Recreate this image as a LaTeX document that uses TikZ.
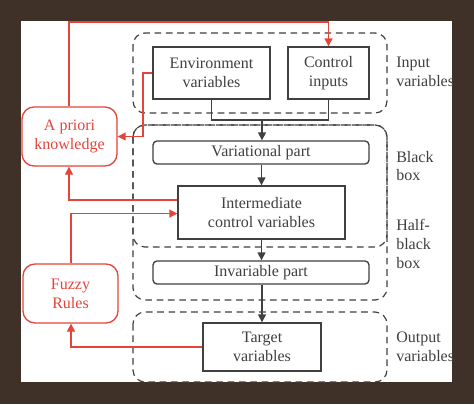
\documentclass[tikz,border=0pt]{standalone}
\usepackage{fontspec}
\setmainfont{Liberation Serif}
\usetikzlibrary{arrows.meta}
\definecolor{bgbrown}{RGB}{63,49,40}
\definecolor{myred}{RGB}{228,68,58}
\definecolor{mygray}{RGB}{64,64,64}
\begin{document}
\begin{tikzpicture}[x=0.75pt,y=-0.75pt,
  every node/.style={font=\fontsize{12}{14}\selectfont, text=mygray},
  plainbox/.style={draw=mygray, line width=1pt, align=center, inner sep=0pt},
  partbox/.style={plainbox, rounded corners=3pt},
  redbox/.style={draw=myred, line width=1pt, rounded corners=9pt, align=center, inner sep=0pt, text=myred},
  dashbox/.style={draw=mygray, line width=0.9pt, dash pattern=on 5pt off 3.5pt, rounded corners=9pt},
  blk/.style={draw=mygray, line width=1pt},
  blkarrow/.style={blk, -{Triangle[width=6pt,length=6pt]}},
  redline/.style={draw=myred, line width=1pt},
  redarrow/.style={redline, -{Triangle[width=6pt,length=6pt]}},
  sidelabel/.style={align=left, anchor=west, inner sep=0pt, font=\fontsize{12}{14}\selectfont}
]
\useasboundingbox (0,0) rectangle (474,404);
\fill[bgbrown] (0,0) rectangle (474,404);
\fill[white] (21,21) rectangle (452,382);

% dashed groups
\draw[dashbox] (133,33) rectangle (387,113);
\draw[dashbox] (133,125) rectangle (387,247);
\draw[dashbox] (133,125) rectangle (387,300);
\draw[dashbox] (133,312) rectangle (387,382);

% nodes
\node[plainbox, minimum width=117*0.75pt, minimum height=52*0.75pt] (env) at (211.5,73) {Environment\\variables};
\node[plainbox, minimum width=81*0.75pt, minimum height=52*0.75pt] (ctrl) at (328.5,73) {Control\\inputs};
\node[partbox, minimum width=216*0.75pt, minimum height=23*0.75pt] (var) at (261,152.5) {Variational part};
\node[plainbox, minimum width=167*0.75pt, minimum height=53*0.75pt] (inter) at (261.5,212.5) {Intermediate\\control variables};
\node[partbox, minimum width=216*0.75pt, minimum height=23*0.75pt] (inv) at (261,272.5) {Invariable part};
\node[plainbox, minimum width=118*0.75pt, minimum height=48*0.75pt] (target) at (262,347) {Target\\variables};
\node[redbox, minimum width=95*0.75pt, minimum height=59*0.75pt] (apriori) at (69.5,136.5) {A priori\\knowledge};
\node[redbox, minimum width=95*0.75pt, minimum height=59*0.75pt] (fuzzy) at (70.5,293.5) {Fuzzy\\Rules};

% side labels
\node[sidelabel] (lin) at (396,72) {Input\\variables};
\node[sidelabel] (lblack) at (396,166) {Black\\box};
\node[sidelabel] (lhalf) at (396,244) {Half-\\black\\box};
\node[sidelabel] (lout) at (396,347) {Output\\variables};

% black connectors
\coordinate (join) at (262,120);
\draw[blk] (env.south) -- (env.south |- join) -| (ctrl.south);
\draw[blkarrow] (join) -- (join |- var.north);
\draw[blkarrow] (var.south -| inter.north) -- (inter.north);
\draw[blkarrow] (inter.south) -- (inter.south |- inv.north);
\draw[blkarrow] (inv.south -| target.north) -- (target.north);

% red connectors
\coordinate (topturn) at (69,22);
\coordinate (fx) at (71,0);
\draw[redarrow] (apriori.north -| topturn) -- (topturn) -| (ctrl.north);
\coordinate (envturn) at (143,73);
\draw[redarrow] (env.west) -- (envturn) |- (apriori.east);
\draw[redarrow] ([yshift=9.4pt]inter.west) -| (apriori.south -| topturn);
\draw[redarrow] (fuzzy.north -| fx) |- ([yshift=-0.8pt]inter.west);
\draw[redarrow] (target.west) -| (fuzzy.south -| fx);
\end{tikzpicture}
\end{document}
